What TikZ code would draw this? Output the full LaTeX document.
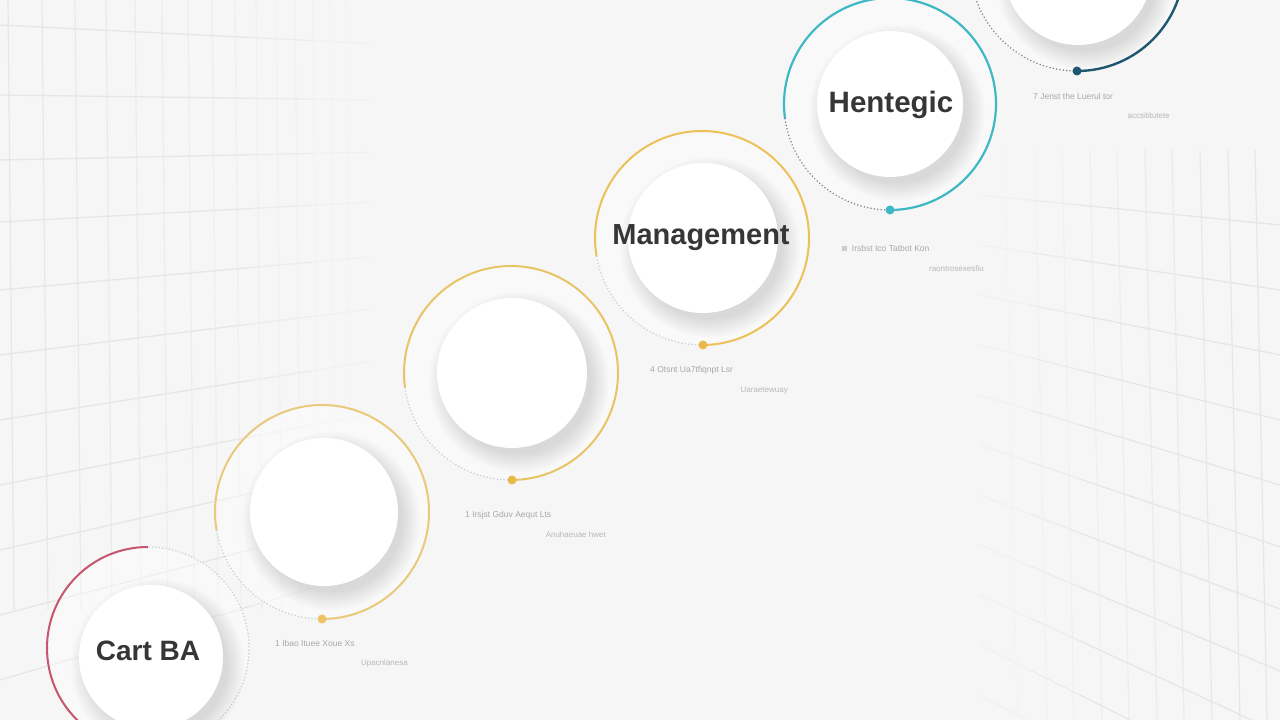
\documentclass[tikz,border=0pt]{standalone}
\usepackage{fontspec}
\setmainfont{Liberation Sans}
\usetikzlibrary{calc}
\definecolor{bg}{HTML}{F6F6F6}
\definecolor{gridc}{HTML}{E6E6E6}
\definecolor{crim}{HTML}{C4566F}
\definecolor{gold1}{HTML}{E9CA7C}
\definecolor{gold2}{HTML}{E8C467}
\definecolor{gold3}{HTML}{ECC158}
\definecolor{golddot}{HTML}{E9BA4A}
\definecolor{teal1}{HTML}{3DB8C5}
\definecolor{navy1}{HTML}{1E5870}
\definecolor{dotlight}{HTML}{C6CED6}
\definecolor{dotdark}{HTML}{7D8892}
\definecolor{txt}{HTML}{363636}
\definecolor{subc}{HTML}{A8A8A8}
\definecolor{subd}{HTML}{B8B8B8}
\newcommand{\softdisk}[3]{%
  \foreach \k in {1,...,16}{\fill[black,opacity=0.0065] (#1+7,#2-9) circle ({#3+\k*1.2-4});}%
  \fill[white] (#1,#2) circle (#3);}
\begin{document}
\begin{tikzpicture}[x=1pt,y=1pt,
  ringsolid/.style={line width=2pt},
  ringdots/.style={line width=1.7pt, dash pattern=on 0pt off 3.4pt, line cap=round},
  dotnode/.style={circle, inner sep=0pt, minimum size=9pt},
  gridline/.style={gridc, line width=1.3pt},
  mainlabel/.style={text=txt, font=\fontsize{28}{32}\selectfont\bfseries},
  subone/.style={text=subc, font=\fontsize{8.5}{10}\selectfont, anchor=west, inner sep=0pt},
  subtwo/.style={text=subd, font=\fontsize{8}{10}\selectfont, anchor=east, inner sep=0pt}]
\useasboundingbox (0,0) rectangle (1280,720);
\clip (0,0) rectangle (1280,720);
\fill[bg] (0,0) rectangle (1280,720);
% left perspective grid (fading to the right)
\foreach \p in {25,95,160,222,290,355,420,485,550,615,680}{
  \draw[gridline] (0,720-\p) -- (250,{720-\p+(\p-120)/1900*250});
  \draw[gridline, opacity=0.6] (250,{720-\p+(\p-120)/1900*250}) -- (310,{720-\p+(\p-120)/1900*310});
  \draw[gridline, opacity=0.3] (310,{720-\p+(\p-120)/1900*310}) -- (370,{720-\p+(\p-120)/1900*370});}
\foreach \x [evaluate=\x as \op using {max(0.1,1-\x/380)}] in {8,42,75,106,135,162,188,212,235,256,276,295,313,330,346}{
  \draw[gridc, line width=1.2pt, opacity=\op] (\x,720) -- (\x+6,110);}
% right perspective grid (fading to the left)
\foreach \p/\s in {195/0.10,245/0.15,295/0.20,345/0.25,395/0.30,445/0.34,495/0.38,545/0.42,595/0.46,645/0.50,695/0.54}{
  \draw[gridline, opacity=0.3] (980,720-\p) -- (1030,{720-\p-50*\s});
  \draw[gridline, opacity=0.6] (1030,{720-\p-50*\s}) -- (1080,{720-\p-100*\s});
  \draw[gridline] (1080,{720-\p-100*\s}) -- (1280,{720-\p-300*\s});}
\foreach \x [evaluate=\x as \op using {min(1,max(0.1,(\x-980)/260))}] in {1005,1035,1062,1090,1117,1145,1172,1200,1228,1255}{
  \draw[gridc, line width=1.2pt, opacity=\op] (\x,570) -- (\x+12,0);}
% ===== circle 1 (Cart BA)
\fill[white,opacity=0.4] (148,72) circle (101);
\draw[ringsolid, crim] (148,72) ++(90:101) arc (90:270:101);
\draw[ringdots, dotlight] (148,72) ++(-90:101) arc (-90:90:101);
\softdisk{151}{63}{72}
\node[mainlabel] (t1) at (148,69) {Cart BA};
% ===== circle 2
\fill[white,opacity=0.4] (322,208) circle (107);
\draw[ringsolid, gold1] (322,208) ++(-90:107) arc (-90:190:107);
\draw[ringdots, dotlight] (322,208) ++(190:107) arc (190:270:107);
\softdisk{324}{208}{74}
\node[dotnode, fill=golddot!85] (k2) at (322,101) {};
% ===== circle 3
\fill[white,opacity=0.4] (511,347) circle (107);
\draw[ringsolid, gold2] (511,347) ++(-90:107) arc (-90:188:107);
\draw[ringdots, dotlight] (511,347) ++(188:107) arc (188:270:107);
\softdisk{512}{347}{75}
\node[dotnode, fill=golddot] (k3) at (512,240) {};
% ===== circle 4 (Management)
\fill[white,opacity=0.4] (702,482) circle (107);
\draw[ringsolid, gold3] (702,482) ++(-90:107) arc (-90:190:107);
\draw[ringdots, dotlight] (702,482) ++(190:107) arc (190:270:107);
\softdisk{703}{482}{75}
\node[dotnode, fill=golddot] (k4) at (703,375) {};
\node[mainlabel, font=\fontsize{29}{32}\selectfont\bfseries] (t4) at (701,482) {Management};
% ===== circle 5 (Hentegic)
\fill[white,opacity=0.4] (890,616) circle (106);
\draw[ringsolid, teal1, line width=2.2pt] (890,616) ++(-90:106) arc (-90:188:106);
\draw[ringdots, dotdark] (890,616) ++(188:106) arc (188:270:106);
\softdisk{890}{616}{73}
\node[dotnode, fill=teal1] (k5) at (890,510) {};
\node[mainlabel, font=\fontsize{29.5}{32}\selectfont\bfseries] (t5) at (891,615) {Hentegic};
% ===== circle 6
\fill[white,opacity=0.4] (1077,756) circle (107);
\draw[ringsolid, navy1, line width=2.4pt] (1077,756) ++(-90:107) arc (-90:80:107);
\draw[ringdots, dotdark] (1077,756) ++(188:107) arc (188:270:107);
\softdisk{1078}{749}{74}
\node[dotnode, fill=navy1] (k6) at (1077,649) {};
% ===== small captions
\node[subone] (a2) at (275,77) {1 Ibao Ituee Xoue Xs};
\node[subtwo] (b2) at (408,57) {Upacnlanesa};
\node[subone] (a3) at (465,205) {1 Irsjst Gduv Aequt Lts};
\node[subtwo] (b3) at (606,185) {Anuhaeuae hwet};
\node[subone] (a4) at (650,350) {4 Otsnt Ua7tfiqnpt Lsr};
\node[subtwo] (b4) at (788,329) {Uaraetewuay};
\node[subone] (a5) at (842,472) {\textcolor{dotlight}{\rule{5pt}{5pt}}\ \ Irsbst Ico Tatbot Kon};
\node[subtwo] (b5) at (984,451) {raontrosexesfiu};
\node[subone] (a6) at (1033,624) {7 Jenst the Luerul tor};
\node[subtwo] (b6) at (1170,604) {accsititutete};
\end{tikzpicture}
\end{document}
